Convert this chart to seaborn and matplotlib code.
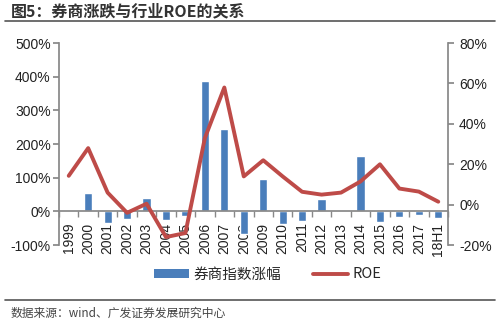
import numpy as np
import pandas as pd
import matplotlib
matplotlib.use("Agg")
import matplotlib.pyplot as plt
import seaborn as sns
from matplotlib.ticker import FuncFormatter, MultipleLocator
from matplotlib.lines import Line2D
from matplotlib.patches import Patch

categories = ["1999", "2000", "2001", "2002", "2003", "2004", "2005", "2006", "2007", "2008",
              "2009", "2010", "2011", "2012", "2013", "2014", "2015", "2016", "2017", "18H1"]
index_change = [0, 56, -33, -22, 40, -25, -13, 387, 245, -68,
                97, -38, -28, 38, 0, 165, -30, -15, -10, -20]
roe = [14.3, 28, 6, -4, 0.5, -16, -14, 33, 58, 14,
       22, 14, 6.4, 5, 6, 11.5, 20, 8, 6.5, 1.5]

sns.set_theme(style="white")
plt.rcParams['font.family'] = ['Liberation Sans', 'Noto Sans CJK SC', 'DejaVu Sans']

df = pd.DataFrame({"cat": categories, "chg": index_change, "roe": roe})

fig = plt.figure(figsize=(5, 3.26), dpi=100)
ax = fig.add_axes([0.118, 0.248, 0.778, 0.62])
bar_color = "#4A7EBB"
line_color = "#BE4B48"

sns.barplot(data=df, x="cat", y="chg", color=bar_color, width=0.42, ax=ax, saturation=1)
ax.set_ylim(-100, 500)
ax.yaxis.set_major_locator(MultipleLocator(100))
ax.yaxis.set_major_formatter(FuncFormatter(lambda v, p: f"{v:.0f}%"))
ax.set_xlabel("")
ax.set_ylabel("")
ax.set_xlim(-0.5, len(categories) - 0.5)

ax2 = ax.twinx()
sns.pointplot(data=df, x="cat", y="roe", color=line_color, marker="", linewidth=2.8, ax=ax2)
ax2.set_ylim(-20, 80)
ax2.yaxis.set_major_locator(MultipleLocator(20))
ax2.yaxis.set_major_formatter(FuncFormatter(lambda v, p: f"{v:.0f}%"))
ax2.set_ylabel("")
ax2.set_xlabel("")
ax2.set_xlim(-0.5, len(categories) - 0.5)

for a in (ax, ax2):
    for s in a.spines.values():
        s.set_visible(False)
    a.grid(False)

ax.spines['left'].set_visible(True)
ax.spines['left'].set_color("#888888")
ax.spines['bottom'].set_visible(True)
ax.spines['bottom'].set_position(('data', 0))
ax.spines['bottom'].set_color("#888888")
ax2.spines['right'].set_visible(True)
ax2.spines['right'].set_color("#888888")

ax.tick_params(axis='y', which='both', left=True, length=4, color="#888888", labelsize=10,
               labelcolor="#222222", pad=2)
ax2.tick_params(axis='y', right=True, length=4, color="#888888", labelsize=10,
                labelcolor="#222222", pad=4)

ax.set_xticks(range(len(categories)))
ax.set_xticklabels(categories, rotation=90, fontsize=10, color="#222222")
ax.tick_params(axis='x', bottom=False, pad=2)
ax.set_xticks(np.arange(-0.5, len(categories), 1), minor=True)
ax.tick_params(axis='x', which='minor', bottom=True, length=4, color="#888888")

# title and source
fig.text(0.022, 0.965, "图5：券商涨跌与行业ROE的关系", fontsize=11.5, fontweight="bold",
         color="#333333", ha="left", va="center", family=['Noto Sans CJK SC', 'DejaVu Sans'])
fig.add_artist(Line2D([0.01, 0.99], [0.935, 0.935], color="#555555", linewidth=1.2))
fig.add_artist(Line2D([0.01, 0.99], [0.08, 0.08], color="#555555", linewidth=1.2))
fig.text(0.022, 0.04, "数据来源：wind、广发证券发展研究中心", fontsize=8.5, color="#444444",
         ha="left", va="center", family=['Noto Sans CJK SC', 'DejaVu Sans'])

handles = [Patch(facecolor=bar_color, edgecolor='none'),
           Line2D([0], [0], color=line_color, linewidth=2.8)]
leg = fig.legend(handles, ["券商指数涨幅", "ROE"], loc="center", bbox_to_anchor=(0.535, 0.158),
                 ncol=2, frameon=False, handlelength=2.4, handleheight=0.6,
                 columnspacing=2.2, handletextpad=0.3,
                 prop={'family': ['Noto Sans CJK SC', 'DejaVu Sans'], 'size': 10.5})

fig.savefig("out.png", dpi=100)
